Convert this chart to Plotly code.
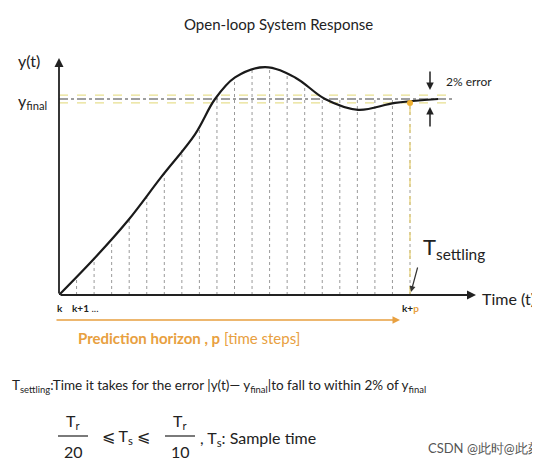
import plotly.graph_objects as go

# response curve (t in time steps, y normalised to y_final)
curve_t = [0, 2.05, 3.93, 5.81, 7.75, 8.89, 10.03, 11.74, 13.45, 15.16, 17.04, 19.15, 21.6]
curve_y = [0, 0.19, 0.38, 0.60, 0.82, 1.0, 1.11, 1.163, 1.11, 1.0, 0.945, 0.98, 1.0]

# sample instants and the height of each dotted line
step_t = list(range(1, 21))
step_top = [0.09, 0.19, 0.28, 0.39, 0.50, 0.62, 0.74, 0.86, 1.0, 1.1,
            1.15, 1.16, 1.13, 1.06, 1.0, 1.0, 1.0, 1.0, 1.0, 1.0]
y_final = 1.0
band = 0.02
t_settle = 20

W, H = 540, 459
X0, Y0, X1, Y1 = 51, 287, 465, 50
DX, DY = 17.55, 196


def qx(x):
    return (x - X0) / (X1 - X0)


def qy(y):
    return (Y0 - y) / (Y0 - Y1)


FONT = "Lato"
fig = go.Figure()

for t, top in zip(step_t, step_top):
    fig.add_trace(go.Scatter(x=[t, t], y=[0, top], mode="lines", showlegend=False,
                             line=dict(color="#9a9a9a", width=1, dash="dot"), hoverinfo="skip"))

for lvl in [y_final - band, y_final + band]:
    fig.add_trace(go.Scatter(x=[0, 22.5], y=[lvl, lvl], mode="lines", showlegend=False,
                             line=dict(color="#e8e090", width=1.2, dash="dash"), hoverinfo="skip"))
fig.add_trace(go.Scatter(x=[0, 22.5], y=[y_final, y_final], mode="lines", showlegend=False,
                         line=dict(color="#808080", width=1.3, dash="dashdot"), hoverinfo="skip"))
fig.add_trace(go.Scatter(x=[t_settle, t_settle], y=[0, y_final], mode="lines", showlegend=False,
                         line=dict(color="#e8d070", width=1.2, dash="dash"), hoverinfo="skip"))

fig.add_trace(go.Scatter(x=curve_t, y=curve_y, mode="lines", line_shape="spline", showlegend=False,
                         line=dict(color="#1a1a1a", width=2.2, smoothing=1.0), hoverinfo="skip"))
fig.add_trace(go.Scatter(x=[t_settle], y=[y_final - band], mode="markers", showlegend=False,
                         marker=dict(color="#f0b030", size=6), hoverinfo="skip"))

ann = []


def arrow(x0, y0, x1, y1, color="#222", w=1.8, head=2):
    ann.append(dict(x=qx(x1), y=qy(y1), ax=x0 - x1, ay=y0 - y1, xref="paper", yref="paper",
                    showarrow=True, arrowhead=head, arrowsize=1,
                    arrowwidth=w, arrowcolor=color, text=""))


def text(x, y, s, size=13, color="#222", anchor="left"):
    ann.append(dict(x=qx(x), y=qy(y), xref="paper", yref="paper", text=s, showarrow=False,
                    xanchor=anchor, yanchor="middle", font=dict(family=FONT, size=size, color=color)))


arrow(51, 287, 468, 287)
arrow(51, 287, 51, 50)
arrow(422, 62, 422, 82, w=1.5)
arrow(422, 120, 422, 99, w=1.5)
arrow(410, 258, 403, 284, color="#333", w=1.2)
arrow(47, 312, 392, 312, color="#e8a040", w=1.5)

text(270, 16, "Open-loop System Response", 15, anchor="center")
text(8, 52, "y(t)", 16)
text(8, 93, "y<sub>final</sub>", 16)
text(472, 290, "Time (t)", 16)
text(436, 73, "2% error", 12)
text(413, 240, "T<sub>settling</sub>", 22)
text(47, 300, "<b>k</b>", 10)
text(62, 300, "<b>k+1</b> ...", 10)
text(392, 300, "<b>k+<span style='color:#e8a040'>p</span></b>", 10)
text(68, 330, "<b>Prediction horizon , p</b> [time steps]", 15, color="#e8a040")
text(2, 378, "T<sub>settling</sub>:Time it takes for the error |y(t)— y<sub>final</sub>|to fall to within 2% of y<sub>final</sub>", 13.5)
text(65, 413, "T<sub>r</sub>", 16, anchor="center")
text(65, 443, "20", 16, anchor="center")
text(118, 428, "⩽ T<sub>s</sub> ⩽", 16, anchor="center")
text(172, 413, "T<sub>r</sub>", 16, anchor="center")
text(172, 443, "10", 16, anchor="center")
text(190, 430, ", T<sub>s</sub>: Sample time", 16)
text(535, 440, "CSDN @此时@此刻", 13, color="#555", anchor="right")

shapes = [dict(type="line", xref="paper", yref="paper", x0=qx(a), x1=qx(b), y0=qy(428), y1=qy(428),
               line=dict(color="#222", width=1.2)) for a, b in [(50, 80), (157, 187)]]

fig.update_layout(
    width=W, height=H, margin=dict(l=X0, r=W - X1, t=Y1, b=H - Y0),
    plot_bgcolor="white", paper_bgcolor="white", annotations=ann, shapes=shapes,
    xaxis=dict(range=[0, (X1 - X0) / DX], visible=False, fixedrange=True),
    yaxis=dict(range=[0, (Y0 - Y1) / DY], visible=False, fixedrange=True),
)
fig.write_html("out.html")
